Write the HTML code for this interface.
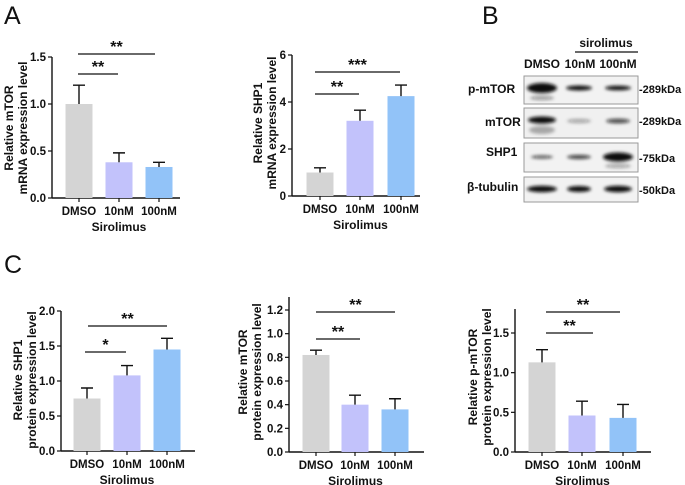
<!DOCTYPE html>
<html><head><meta charset="utf-8"><style>
html,body{margin:0;padding:0;background:#fff;}
svg{display:block;font-family:"Liberation Sans",sans-serif;}
.t{font-size:11.5px;font-weight:bold;fill:#111;}
.yt{font-size:12px;font-weight:bold;fill:#111;}
.w{font-size:12px;font-weight:bold;fill:#111;}
.k{font-size:11px;font-weight:bold;fill:#111;}
</style></head><body>
<svg id="fig" width="685" height="485" viewBox="0 0 685 485">
<defs><filter id="bl" x="-20%" y="-100%" width="140%" height="300%"><feGaussianBlur stdDeviation="1.6"/></filter></defs>
<text x="4" y="24" font-size="25" fill="#111">A</text>
<text x="482" y="24" font-size="25" fill="#111">B</text>
<text x="4" y="273" font-size="25" fill="#111">C</text>
<g id="wb">
<text x="606" y="47" class="w" text-anchor="middle">sirolimus</text>
<line x1="575" y1="52" x2="638" y2="52" stroke="#111" stroke-width="1.2"/>
<text x="542" y="68" class="w" text-anchor="middle">DMSO</text>
<text x="580" y="68" class="w" text-anchor="middle">10nM</text>
<text x="618" y="68" class="w" text-anchor="middle">100nM</text>
<rect x="524" y="76" width="114" height="28" fill="#f2f2f2" stroke="#999"/>
<rect x="524" y="108" width="114" height="30" fill="#f0f0f0" stroke="#999"/>
<rect x="524" y="143" width="114" height="29" fill="#f2f2f2" stroke="#999"/>
<rect x="524" y="177" width="114" height="25" fill="#f2f2f2" stroke="#999"/>
<g filter="url(#bl)" fill="#111">
<ellipse cx="542" cy="88" rx="15" ry="5"/><ellipse cx="542" cy="98" rx="12" ry="2" opacity="0.4"/>
<ellipse cx="579" cy="88" rx="13" ry="2.5"/><ellipse cx="618" cy="88" rx="13" ry="2.3"/>
<ellipse cx="542" cy="120" rx="14" ry="3.5"/><ellipse cx="542" cy="130" rx="13" ry="4" opacity="0.3"/>
<ellipse cx="579" cy="121" rx="12" ry="2" opacity="0.35"/><ellipse cx="618" cy="121" rx="12" ry="2.3" opacity="0.75"/>
<ellipse cx="542" cy="157" rx="11" ry="1.6" opacity="0.7"/><ellipse cx="579" cy="157" rx="12" ry="2" opacity="0.8"/>
<ellipse cx="618" cy="157" rx="15" ry="4.5"/><ellipse cx="618" cy="166" rx="13" ry="2" opacity="0.35"/>
<ellipse cx="542" cy="189" rx="15" ry="3.2"/><ellipse cx="579" cy="189" rx="12" ry="3"/><ellipse cx="618" cy="189" rx="14" ry="3.2"/>
</g>
<text x="468" y="93" class="w">p-mTOR</text>
<text x="485" y="126" class="w">mTOR</text>
<text x="486" y="156" class="w">SHP1</text>
<text x="467" y="191" class="w">β-tubulin</text>
<text x="639" y="93" class="k">-289kDa</text>
<text x="639" y="125" class="k">-289kDa</text>
<text x="639" y="162" class="k">-75kDa</text>
<text x="639" y="194" class="k">-50kDa</text>
</g>
</svg>
<script>
const categories = ["DMSO","10nM","100nM"];
const colors = ["#d4d4d4","#c2c2fb","#92c3f8"];
const mtorMrnaValues = [1.0, 0.38, 0.33];
const mtorMrnaErrors = [0.2, 0.1, 0.05];
const mtorMrnaTicks = ["0.0","0.5","1.0","1.5"];
const shp1MrnaValues = [1.0, 3.2, 4.25];
const shp1MrnaErrors = [0.2, 0.45, 0.47];
const shp1MrnaTicks = ["0","2","4","6"];
const shp1ProtValues = [0.75, 1.08, 1.45];
const shp1ProtErrors = [0.15, 0.14, 0.16];
const shp1ProtTicks = ["0.0","0.5","1.0","1.5","2.0"];
const mtorProtValues = [0.82, 0.4, 0.36];
const mtorProtErrors = [0.04, 0.08, 0.09];
const mtorProtTicks = ["0.0","0.2","0.4","0.6","0.8","1.0","1.2"];
const pmtorProtValues = [1.13, 0.46, 0.43];
const pmtorProtErrors = [0.16, 0.18, 0.17];
const pmtorProtTicks = ["0.0","0.5","1.0","1.5"];

const svg = document.getElementById('fig');
const NS = "http://www.w3.org/2000/svg";
function mk(tag, attrs, parent){const e=document.createElementNS(NS,tag);for(const k in attrs)e.setAttribute(k,attrs[k]);(parent||svg).appendChild(e);return e;}

function chart(o){
  const g = mk('g',{});
  
  
  const y = v => o.y0 - v / o.ymax * (o.y0 - o.ytop);
  const ax = mk('line',{x1:o.ax,y1:o.axTop,x2:o.ax,y2:o.y0,stroke:'#111','stroke-width':1.4},g);
  
  
  const xa = mk('line',{x1:o.ax,y1:o.y0,x2:o.xr,y2:o.y0,stroke:'#111','stroke-width':1.4},g);
  
  
  o.ticks.forEach(t=>{
    const v=parseFloat(t), yy=y(v);
    mk('line',{x1:o.ax-4,y1:yy,x2:o.ax,y2:yy,stroke:'#111','stroke-width':1.2},g);
    const tx=mk('text',{x:o.ax-6,y:yy+4,'text-anchor':'end',class:'t'},g);
    tx.textContent=t;
    
    
  });
  o.values.forEach((v,i)=>{
    const cx=o.cx[i], w=o.bw;
    const b=mk('rect',{x:cx-w/2,y:y(v),width:w,height:o.y0-y(v),fill:colors[i]},g);
    
    
    const top=y(v+o.errors[i]);
    const e=mk('path',{d:`M${cx},${y(v)}V${top}M${cx-6},${top}H${cx+6}`,stroke:'#111','stroke-width':1.4,fill:'none'},g);
    
    
    mk('line',{x1:cx,y1:o.y0,x2:cx,y2:o.y0+4,stroke:'#111','stroke-width':1.2},g);
    const lb=mk('text',{x:cx,y:o.y0+17,'text-anchor':'middle',class:'t'},g);
    lb.textContent=categories[i];
    
    
  });
  const xt=mk('text',{x:(o.cx[0]+o.cx[2])/2,y:o.y0+33,'text-anchor':'middle',class:'yt'},g);
  xt.textContent='Sirolimus';
  
  
  const yt=mk('text',{transform:`translate(${o.tx},${o.tyc}) rotate(-90)`,'text-anchor':'middle',class:'yt'},g);
  
  
  const t1=mk('tspan',{x:0,y:0},yt); t1.textContent=o.title[0];
  const t2=mk('tspan',{x:0,y:14},yt); t2.textContent=o.title[1];
  o.sig.forEach(s=>{
    const l=mk('line',{x1:s[0],y1:s[2],x2:s[1],y2:s[2],stroke:'#111','stroke-width':1.3},g);
    
    
    const st=mk('text',{x:(s[0]+s[1])/2,y:s[2]-2,'text-anchor':'middle','font-size':'16','font-weight':'bold',fill:'#111'},g);
    st.textContent=s[3];
    
    
  });
}
chart({name:'chart-mtor-mrna',values:mtorMrnaValues,errors:mtorMrnaErrors,ticks:mtorMrnaTicks,ymax:1.5,
  ax:52,y0:198,ytop:57,axTop:57,xr:180,cx:[79,119,159],bw:27,tx:13,tyc:128,
  title:['Relative mTOR','mRNA expression level'],sig:[[78,118,74,'**'],[78,155,54,'**']]});
chart({name:'chart-shp1-mrna',values:shp1MrnaValues,errors:shp1MrnaErrors,ticks:shp1MrnaTicks,ymax:6,
  ax:292,y0:196,ytop:55,axTop:55,xr:420,cx:[320,360,401],bw:27,tx:262,tyc:123,
  title:['Relative SHP1','mRNA expression level'],sig:[[315,359,94,'**'],[315,400,72,'***']]});
chart({name:'chart-shp1-protein',values:shp1ProtValues,errors:shp1ProtErrors,ticks:shp1ProtTicks,ymax:2,
  ax:61,y0:451,ytop:311,axTop:311,xr:195,cx:[87,127,167],bw:27,tx:22,tyc:380,
  title:['Relative SHP1','protein expression level'],sig:[[85,126,352,'*'],[88,167,326,'**']]});
chart({name:'chart-mtor-protein',values:mtorProtValues,errors:mtorProtErrors,ticks:mtorProtTicks,ymax:1.2,
  ax:289,y0:452,ytop:310,axTop:297,xr:424,cx:[316,355,395],bw:27,tx:247,tyc:372,
  title:['Relative mTOR','protein expression level'],sig:[[316,360,339,'**'],[316,395,312,'**']]});
chart({name:'chart-p-mtor-protein',values:pmtorProtValues,errors:pmtorProtErrors,ticks:pmtorProtTicks,ymax:1.5,
  ax:515,y0:452,ytop:333,axTop:309,xr:651,cx:[542,582,623],bw:27,tx:477,tyc:377,
  title:['Relative p-mTOR','protein expression level'],sig:[[546,593,333,'**'],[546,620,312,'**']]});
</script>
</body></html>
